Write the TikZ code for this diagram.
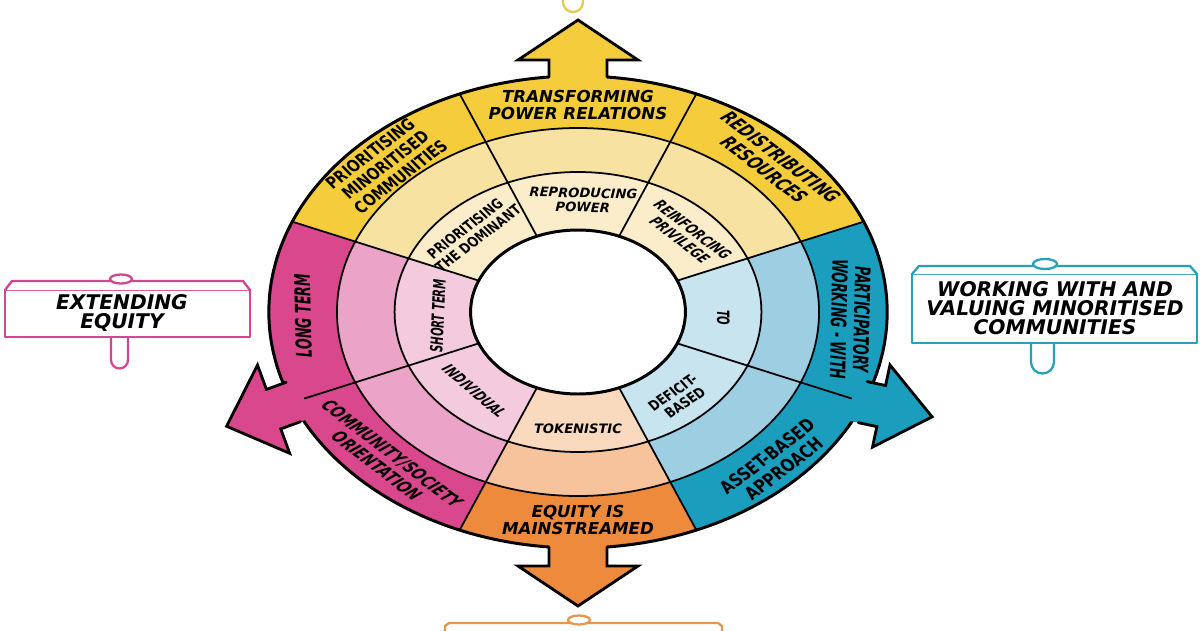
\documentclass[tikz,border=0pt]{standalone}
\usepackage{fontspec}
\setmainfont{DejaVu Sans}
\newfontfamily\wheelfont{DejaVu Sans}[FakeStretch=0.77]
\definecolor{ylw1}{HTML}{F5CD3C}
\definecolor{ylw2}{HTML}{F8E2A1}
\definecolor{ylw3}{HTML}{FBEDCA}
\definecolor{pnk1}{HTML}{D9488D}
\definecolor{pnk2}{HTML}{EBA4C8}
\definecolor{pnk3}{HTML}{F4CADF}
\definecolor{org1}{HTML}{EE8A3C}
\definecolor{org2}{HTML}{F7C39D}
\definecolor{org3}{HTML}{FADABF}
\definecolor{blu1}{HTML}{1B9DBD}
\definecolor{blu2}{HTML}{9ECEE1}
\definecolor{blu3}{HTML}{C8E4EF}
\definecolor{pnkline}{HTML}{D2478F}
\definecolor{bluline}{HTML}{2A9FBA}
\definecolor{orgline}{HTML}{E8964C}
\definecolor{ylwline}{HTML}{E5CA52}
\begin{document}
\begin{tikzpicture}[x=0.02cm,y=0.02cm,line cap=round,line join=round,
	lbl/.style={font=\wheelfont\bfseries\itshape\fontsize{#1}{#1}\linespread{1.08}\selectfont,align=center,inner sep=0pt,transform shape},
	signtxt/.style={font=\bfseries\itshape\fontsize{11.5}{10.8}\selectfont,align=center,inner sep=0pt},
	rim/.style={line width=1.7pt},
	seam/.style={line width=1pt},
	board/.style={line width=1.3pt,fill=white},
	arr/.style={line width=1.6pt,line join=miter}]
	\useasboundingbox (0,0) rectangle (1200,630);
	\clip (0,0) rectangle (1200,630);
	\def\rA{82} \def\rB{140} \def\rC{184} \def\rD{236} % ring radii
	% wheel
	\begin{scope}[shift={(578,318)},xscale=1.31]
		\foreach \sa/\sb/\col in {22.5/157.5/ylw,157.5/247.5/pnk,247.5/292.5/org,292.5/382.5/blu}
		\foreach \ri/\ro/\k in {\rA/\rB/3,\rB/\rC/2,\rC/\rD/1}
		\fill[fill=\col\k] (\sa:\ri) arc[start angle=\sa,end angle=\sb,radius=\ri] -- (\sb:\ro) arc[start angle=\sb,end angle=\sa,radius=\ro] -- cycle;
		\draw[seam] (0,0) circle[radius=\rB] (0,0) circle[radius=\rC];
		\foreach \ang in {22.5,67.5,112.5,157.5,247.5,292.5}
		\draw[seam] (\ang:\rA) -- (\ang:\rD);
		\foreach \ang in {202.5,337.5}
		\draw[seam] (\ang:\rA) -- (\ang:{\rD-10});
		\draw[rim] (0,0) circle[radius=\rA] (0,0) circle[radius=\rD];
		\coordinate (armtop) at (90:\rD);
		\coordinate (armbot) at (270:\rD);
		\coordinate (armleft) at (202.5:\rD);
		\coordinate (armright) at (337.5:\rD);
		\foreach \ang/\rad/\rot/\fs/\txt in {90/207/0/9.4/{TRANSFORMING\\POWER RELATIONS},
			135/208/45/8.7/{PRIORITISING\\MINORITISED\\COMMUNITIES},
			45/210/-45/9.4/{REDISTRIBUTING\\RESOURCES},
			181/210/91/9.4/{LONG TERM},
			225/209/-45/8.8/{COMMUNITY/SOCIETY\\ORIENTATION},
			270/208/0/9.4/{EQUITY IS\\MAINSTREAMED},
			315/213/45/9.4/{ASSET-BASED\\APPROACH},
			358/208/-91/9.2/{PARTICIPATORY\\WORKING - WITH}}
		\node[lbl=\fs,rotate=\rot] (out\ang) at (\ang:\rad) {\txt};
		\foreach \ang/\rad/\rot/\txt in {88/112/-2/{REPRODUCING\\POWER},
			136/113/45/{PRIORITISING\\THE DOMINANT},
			43/113/-45/{REINFORCING\\PRIVILEGE},
			182/107/88/{SHORT TERM},
			225/112/-48/{INDIVIDUAL},
			270/117/0/{TOKENISTIC},
			312/115/42/{DEFICIT-\\BASED},
			357/111/-90/{TO}}
		\node[lbl=7.4,rotate=\rot] (in\ang) at (\ang:\rad) {\txt};
	\end{scope}
	% arrows
	\foreach \p/\dir/\col/\w/\l/\h/\tp in {armtop/90/ylw1/29/16/60/40,armbot/270/org1/29/18/60/40,
		armleft/200/pnk1/21/20/47/50,armright/-12/blu1/21/18/42/52}{
		\begin{scope}[shift={(\p)},rotate=\dir]
			\fill[fill=\col] (-12,-\w) -- (\l,-\w) -- (\l,-\h) -- (\l+\tp,0) -- (\l,\h) -- (\l,\w) -- (-12,\w) -- cycle;
			\draw[arr] (-1,-\w) -- (\l,-\w) -- (\l,-\h) -- (\l+\tp,0) -- (\l,\h) -- (\l,\w) -- (-1,\w);
		\end{scope}
	}
	% signs
	\draw[board,draw=pnkline] (111,293) -- (111,270) arc[start angle=180,end angle=360,radius=8.5] -- (128,293);
	\draw[board,draw=pnkline] (5,293) rectangle (250,340);
	\draw[board,draw=pnkline] (5,340) -- (12,349) -- (243,349) -- (250,340);
	\draw[board,draw=pnkline] (121,351) ellipse[x radius=11,y radius=4.5];
	\node[signtxt] (extend) at (122,317) {EXTENDING\\EQUITY};
	\draw[board,draw=bluline] (1031,287) -- (1031,268) arc[start angle=180,end angle=360,radius=11.5] -- (1054,287);
	\draw[board,draw=bluline] (912,287) rectangle (1197,356);
	\draw[board,draw=bluline] (912,356) -- (919,364) -- (1190,364) -- (1197,356);
	\draw[board,draw=bluline] (1045,366) ellipse[x radius=12,y radius=5];
	\node[signtxt] (working) at (1055,322) {WORKING WITH AND\\VALUING MINORITISED\\COMMUNITIES};
	\draw[board,draw=orgline] (445,-4) -- (445,4) -- (449,7) -- (718,7) -- (722,4) -- (722,-4);
	\draw[board,draw=orgline] (579,10) ellipse[x radius=11,y radius=4.5];
	\draw[line width=1.3pt,ylwline] (563,634) -- (563,628) arc[start angle=180,end angle=360,radius=10] -- (583,634);
\end{tikzpicture}
\end{document}
